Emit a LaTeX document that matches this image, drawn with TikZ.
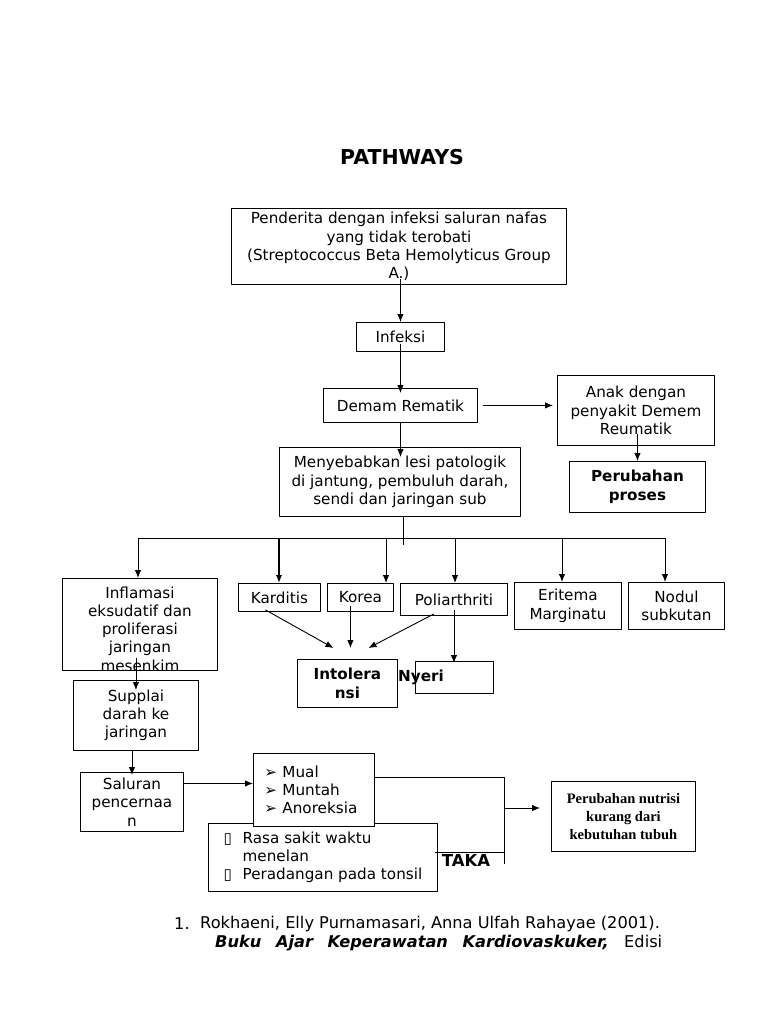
\documentclass[tikz,border=0pt]{standalone}
\usepackage{fontspec}
\setmainfont{DejaVu Sans}
\newfontfamily\nutrifont{Liberation Serif}
\usetikzlibrary{arrows.meta}
\begin{document}
\begin{tikzpicture}[x=1pt,y=-1pt,>={Latex[length=8pt,width=6.5pt]},line join=round,
		every node/.style={font=\fontsize{15.2}{18.3}\selectfont},
		box/.style={draw,fill=white,line width=0.9pt,inner sep=0pt,anchor=north west,align=center},
		boldtxt/.style={font=\fontsize{15.2}{18.3}\selectfont\bfseries},
		reftxt/.style={anchor=west,inner sep=0pt,font=\fontsize{16.2}{19}\selectfont},
		link/.style={line width=0.9pt}]
		\useasboundingbox (0,0) rectangle (768,1024);
		\node[font=\fontsize{20.5}{24}\selectfont\bfseries] (title) at (402,157) {PATHWAYS};
		\node[box,minimum width=335,minimum height=76] (penderita) at (231,208) {Penderita dengan infeksi saluran nafas\\yang tidak terobati\\(Streptococcus Beta Hemolyticus Group\\A.)};
		\node[box,minimum width=88,minimum height=29] (infeksi) at (356,322) {Infeksi};
		\node[box,minimum width=154,minimum height=34] (demam) at (323,388) {Demam Rematik};
		\node[box,minimum width=157,minimum height=70] (anak) at (557,375) {Anak dengan\\penyakit Demem\\Reumatik};
		\node[box,boldtxt,minimum width=136,minimum height=51] (proses) at (569,461) {Perubahan\\proses};
		\node[box,minimum width=241,minimum height=69] (lesi) at (279,447) {Menyebabkan lesi patologik\\di jantung, pembuluh darah,\\sendi dan jaringan sub};
		\node[box,minimum width=155,minimum height=92,path picture={
			\node[draw=none,fill=none,anchor=center,align=center,inner sep=0pt] at ([yshift=-4.5pt]path picture bounding box.center) {Inflamasi\\eksudatif dan\\proliferasi\\jaringan\\mesenkim};
		}] (inflamasi) at (62,578) {};
		\node[box,minimum width=82,minimum height=28] (karditis) at (238,583) {Karditis};
		\node[box,minimum width=66,minimum height=28] (korea) at (327,583) {Korea};
		\node[box,minimum width=107,minimum height=32] (poli) at (400,583) {Poliarthriti};
		\node[box,minimum width=107,minimum height=47] (eritema) at (514,582) {Eritema\\Marginatu};
		\node[box,minimum width=96,minimum height=47] (nodul) at (628,582) {Nodul\\subkutan};
		\node[box,boldtxt,minimum width=100,minimum height=48] (intol) at (297,659) {Intolera\\nsi};
		\node[box,minimum width=78,minimum height=32,label={[boldtxt,anchor=west,inner sep=0pt,xshift=-17pt]west:Nyeri}] (nyeri) at (415,661) {};
		\node[box,minimum width=125,minimum height=70] (supplai) at (73,680) {Supplai\\darah ke\\jaringan};
		\node[box,minimum width=103,minimum height=59] (saluran) at (80,772) {Saluran\\pencernaa\\n};
		\node[box,minimum width=229,minimum height=68,align=left] (rasa) at (208,823) {\makebox[19pt][l]{▯}Rasa sakit waktu\\\hspace*{19pt}menelan\\\makebox[19pt][l]{▯}Peradangan pada tonsil};
		\node[box,minimum width=121,minimum height=73,align=left,text width=99] (mual) at (253,753) {\makebox[18pt][l]{➢}Mual\\\makebox[18pt][l]{➢}Muntah\\\makebox[18pt][l]{➢}Anoreksia};
		\node[box,minimum width=144,minimum height=70,font=\nutrifont\fontsize{14.5}{18}\selectfont\bfseries] (nutrisi) at (551,781) {Perubahan nutrisi\\kurang dari\\kebutuhan tubuh};
		\node[font=\fontsize{16.5}{20}\selectfont\bfseries] (taka) at (466,860) {TAKA};
		
		\draw[link,->,shorten <=-6pt] (infeksi.north |- penderita.south) -- (infeksi.north);
		\draw[link,->,shorten <=-8pt,shorten >=-5pt] (infeksi.south) -- (infeksi.south |- demam.north);
		\draw[link,->,shorten >=-10pt] (demam.south) -- (demam.south |- lesi.north);
		\draw[link,->,shorten <=5pt,shorten >=4pt] (demam.east) -- (demam.east -| anak.west);
		\draw[link,->,shorten <=-12pt] (proses.north |- anak.south) -- (proses.north);
		
		\coordinate (busL) at (138,538);
		\coordinate (busR) at (665,538);
		\coordinate (busM) at (403,538);
		\draw[link] (busL) -- (busR);
		\draw[link] (busM |- lesi.south) -- ([yshift=-7pt]busM);
		\draw[link,->] (busL) -- (busL |- inflamasi.north);
		\draw[link,->] (busR) -- (busR |- nodul.north);
		\foreach \x/\n/\w in {279/karditis/1.8,386/korea/0.9,455/poli/0.9,562/eritema/0.9}{
			\coordinate (drop) at (\x,538);
			\draw[->,line width=\w pt] (drop) -- (drop |- \n.north);
		}
		
		\draw[link,->] ([shift={(-14pt,2pt)}]karditis.south) -- ([shift={(-14pt,11pt)}]intol.north);
		\draw[link,->] ([shift={(-10pt,6pt)}]korea.south) -- ([shift={(3pt,11pt)}]intol.north);
		\draw[link,->] ([shift={(-20pt,2pt)}]poli.south) -- ([shift={(21pt,11pt)}]intol.north);
		\draw[link,->,shorten <=-6pt,shorten >=-2pt] (poli.south) -- (poli.south |- nyeri.north);
		
		\draw[link,->,shorten <=-13pt,shorten >=-10pt] (supplai.north |- inflamasi.south) -- (supplai.north);
		\draw[link,->,shorten >=-3pt] (saluran.north |- supplai.south) -- (saluran.north);
		\coordinate (salout) at ([yshift=18.5pt]saluran.east);
		\draw[link,->] (salout) -- (salout -| mual.west);
		
		\coordinate (mualout) at ([yshift=12.5pt]mual.east);
		\coordinate (rasaout) at ([shift={(-3pt,5pt)}]rasa.east);
		\coordinate (jn) at (504,808);
		\coordinate (jend) at (504,864);
		\draw[link] (mualout) -| (jend);
		\draw[link] (rasaout) -- (rasaout -| jn);
		\draw[link,->,shorten >=11pt] (jn) -- (jn -| nutrisi.west);
		
		\node[reftxt] (refno) at (174,924) {1.};
		\node[reftxt] (refone) at (200,924) {Rokhaeni, Elly Purnamasari, Anna Ulfah Rahayae (2001).};
		\node[reftxt] (reftwo) at (215,943) {\makebox[447pt][s]{\textbf{\textit{Buku Ajar Keperawatan Kardiovaskuker,}} Edisi}};
	\end{tikzpicture}
\end{document}
